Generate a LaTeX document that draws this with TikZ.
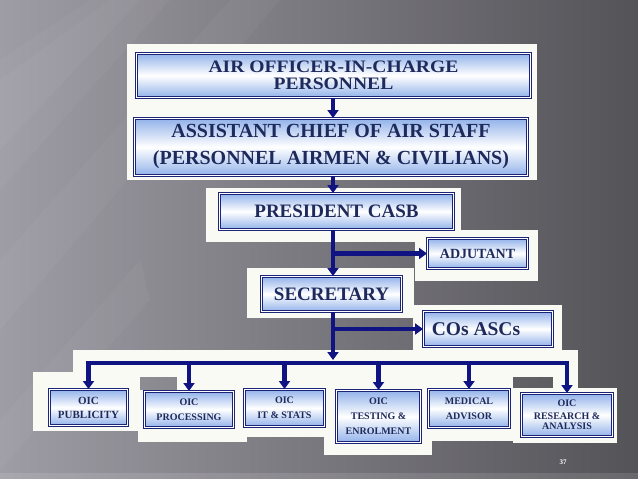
\documentclass[tikz,border=0pt]{standalone}
\usepackage{fontspec}
\setmainfont{Liberation Serif}
\newfontfamily\wideserif[FakeStretch=1.12]{Liberation Serif}
\usetikzlibrary{arrows.meta,calc}
\definecolor{navy}{RGB}{28,36,120}
\definecolor{conncol}{RGB}{16,20,130}
\definecolor{txtcol}{RGB}{30,42,92}
\definecolor{boxblue}{RGB}{146,178,234}
\definecolor{backingcol}{RGB}{250,250,244}
\definecolor{bgL}{RGB}{158,156,164}
\definecolor{bgR}{RGB}{84,83,88}
\begin{document}
\begin{tikzpicture}[x=1pt,y=-1pt,
  box/.style={draw=navy, line width=1pt, double=white, double distance=1.1pt,
    top color=boxblue, bottom color=boxblue, middle color=white,
    text=txtcol, align=center, inner sep=0pt},
  conn/.style={draw=conncol, line width=4.5pt, -{Triangle[length=8pt,width=11pt]}},
  bothconn/.style={draw=conncol, line width=4.5pt, line join=miter,
    {Triangle[length=8pt,width=11pt]}-{Triangle[length=8pt,width=11pt]}},
  backing/.style={fill=backingcol},
  ray/.style={fill=white, fill opacity=0.035}]
% background
\useasboundingbox (0,0) rectangle (638,479);
\shade[left color=bgL, right color=bgR] (0,0) rectangle (638,479);
\fill[ray] (0,60) -- (90,0) -- (170,0) -- (0,190) -- cycle;
\fill[ray] (0,80) -- (110,0) -- (140,0) -- (0,150) -- cycle;
\fill[ray] (0,260) -- (230,0) -- (280,0) -- (0,330) -- cycle;
\fill[ray] (0,420) -- (140,260) -- (150,300) -- (0,470) -- cycle;
\fill[white, opacity=0.12] (0,473) rectangle (638,479);

% white backings
\fill[backing] (127,44) rectangle (537,180);
\fill[backing] (206,188) rectangle (461,242);
\fill[backing] (415,230) rectangle (538,281);
\fill[backing] (247,268) rectangle (414,318);
\fill[backing] (413,305) rectangle (562,353);
\fill[backing] (73,350) rectangle (578,377);
\fill[backing] (33,372) rectangle (140,431);
\fill[backing] (177,377) rectangle (247,390);
\fill[backing] (138,390) rectangle (247,442);
\fill[backing] (238,377) rectangle (329,437);
\fill[backing] (324,377) rectangle (432,455);
\fill[backing] (422,377) rectangle (513,441);
\fill[backing] (553,377) rectangle (578,390);
\fill[backing] (513,388) rectangle (617,443);

% nodes
\node[box, minimum width=394pt, minimum height=44pt,
  font=\wideserif\bfseries\fontsize{17.5}{16.5}\selectfont] (aoc) at (333.5,75.5)
  {AIR OFFICER-IN-CHARGE\\PERSONNEL};
\node[box, minimum width=393pt, minimum height=57pt,
  font=\bfseries\fontsize{20}{27}\selectfont] (acas) at (331,147)
  {ASSISTANT CHIEF OF AIR STAFF\\(PERSONNEL AIRMEN \& CIVILIANS)};
\node[box, minimum width=234pt, minimum height=36pt,
  font=\bfseries\fontsize{19}{19}\selectfont] (pres) at (336.5,211.5)
  {PRESIDENT CASB};
\node[box, minimum width=100pt, minimum height=30pt,
  font=\bfseries\fontsize{14}{14}\selectfont] (adj) at (477.5,253.5)
  {ADJUTANT};
\node[box, minimum width=140pt, minimum height=35pt,
  font=\bfseries\fontsize{19}{19}\selectfont] (sec) at (331.5,294)
  {SECRETARY};
\node[box, minimum width=129pt, minimum height=35pt,
  font=\bfseries\fontsize{19.5}{19.5}\selectfont] (cos) at (488,329)
  {COs ASCs\hspace*{24pt}};
\node[box, minimum width=78pt, minimum height=36pt,
  font=\bfseries\fontsize{11}{14}\selectfont] (pub) at (88.5,407.5)
  {OIC\\PUBLICITY};
\node[box, minimum width=89pt, minimum height=36pt,
  font=\bfseries\fontsize{10}{15}\selectfont] (proc) at (189,409.5)
  {OIC\\PROCESSING};
\node[box, minimum width=80pt, minimum height=37pt,
  font=\bfseries\fontsize{10}{15}\selectfont] (its) at (284.5,408)
  {OIC\\IT \& STATS};
\node[box, minimum width=84pt, minimum height=52pt,
  font=\bfseries\fontsize{10}{15}\selectfont] (test) at (378.5,416.5)
  {OIC\\TESTING \&\\ENROLMENT};
\node[box, minimum width=81pt, minimum height=38pt,
  font=\bfseries\fontsize{10}{15}\selectfont] (med) at (469,408.5)
  {MEDICAL\\ADVISOR};
\node[box, minimum width=91pt, minimum height=43pt,
  font=\bfseries\fontsize{10}{13}\selectfont] (res) at (567,415)
  {OIC\\RESEARCH \&\\[-3pt]ANALYSIS};
\node[text=white, font=\bfseries\fontsize{7}{7}\selectfont] (pg) at (563,462) {37};

% connectors
\coordinate (spine) at (333,0);
\coordinate (bus) at (333,363);
\coordinate (bustop) at (333,360);
\draw[conn, line width=3.5pt] (aoc.south -| spine) -- (acas.north -| spine);
\draw[conn] (acas.south -| spine) -- (pres.north -| spine);
\draw[conn] (pres.south -| spine) -- (sec.north -| spine);
\draw[conn] (spine |- adj.west) -- (adj.west);
\draw[conn] (sec.south -| spine) -- (bustop);
\draw[conn] (spine |- cos.west) -- (cos.west);
\draw[bothconn] (pub.north) -- (pub.north |- bus) -- (res.north |- bus) -- (res.north);
\draw[conn] (proc.north |- bus) -- (proc.north);
\draw[conn] (its.north |- bus) -- (its.north);
\draw[conn] (test.north |- bus) -- (test.north);
\draw[conn] (med.north |- bus) -- (med.north);
\end{tikzpicture}
\end{document}
